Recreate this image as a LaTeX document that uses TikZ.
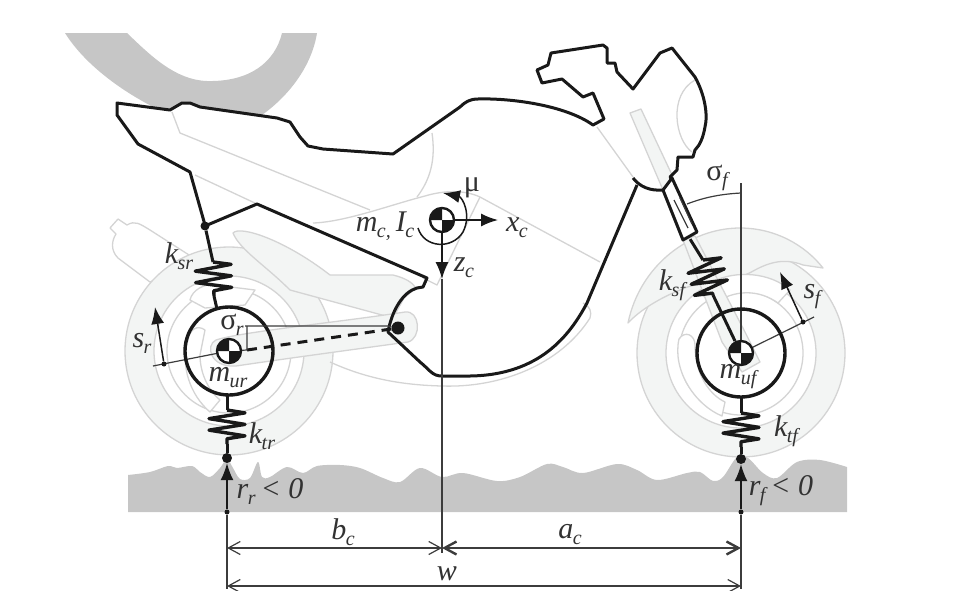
\documentclass[tikz,border=0pt]{standalone}
\usepackage{fontspec}
\setmainfont{Liberation Serif}
\newcommand{\symsub}[2]{{\itshape #1\kern-0.5pt\raisebox{-6pt}{\fontsize{20}{20}\selectfont #2}}}
\definecolor{mbGround}{RGB}{198, 198, 198}
\definecolor{mbFaint}{RGB}{212, 212, 212}
\definecolor{mbPale}{RGB}{243, 245, 244}
\definecolor{mbInk}{RGB}{25, 25, 25}
\definecolor{mbText}{RGB}{50, 50, 50}
\usetikzlibrary{
  arrows.meta,
  calc,
  decorations.pathmorphing
}
\tikzset{
  % Silhouette lines
  faintline/.style={draw=mbFaint, line width=1.3pt, line join=round},
  palepart/.style={faintline, fill=mbPale},
  bodyline/.style={draw=mbInk, line width=3pt, line join=round},
  thinline/.style={draw=mbInk!85, line width=1.2pt},
  % Spring and marks
  springcoil/.style={
    draw=mbInk, line width=3.4pt, line join=round,
    decoration={zigzag, segment length=11.5pt, amplitude=18pt},
    decorate
  },
  dotmark/.style={circle, fill=mbInk, inner sep=0pt, minimum size=#1},
  dotmark/.default=4pt,
  % Arrows
  forcearrow/.style={-{Latex[length=17pt, width=13pt]}, draw=mbInk, line width=1.5pt},
  dimarrow/.style={{Straight Barb[length=12pt, width=13pt]}-{Straight Barb[length=12pt, width=13pt]}, draw=mbInk!85, line width=1.2pt},
  % Labels
  mathlabel/.style={font=\fontsize{30}{32}\selectfont, text=mbText, inner sep=0pt},
  % Wheel centre mark
  hubmark/.pic={
    \fill[white] (0,0) circle (12);
    \fill[mbInk] (0,0) -- (-12,0) arc (180:270:12) -- cycle;
    \fill[mbInk] (0,0) -- (12,0) arc (0:90:12) -- cycle;
    \draw[mbInk, line width=2.4pt] (0,0) circle (12);
  }
}
\begin{document}
\begin{tikzpicture}[x=1pt, y=-1pt]
  \useasboundingbox (0,0) rectangle (954,590);

  % Centres
  \coordinate (hubR) at (229,351);
  \coordinate (hubF) at (741,353);
  \coordinate (cog) at (442,220);

  % Fender at the top
  \fill[mbGround] (65,33) .. controls (85,65) and (125,95) .. (170,115) -- (262,115)
    .. controls (290,95) and (312,65) .. (317,33) -- (282,33)
    .. controls (275,62) and (250,82) .. (207,81) .. controls (175,80) and (150,55) .. (127,33) -- cycle;

  % Exhaust
  \draw[faintline, fill=white] (110,228) -- (118,219) -- (127,225) .. controls (135,220) and (140,224) .. (150,230)
    -- (200,262) -- (150,282) -- (118,258) .. controls (110,250) and (112,240) .. (116,234) -- cycle;

  % Wheels
  \foreach \hub/\name in {hubR/wheelR, hubF/wheelF} {
    \draw[palepart] (\hub) circle (104);
    \draw[faintline, fill=white] (\hub) circle (75);
    \draw[faintline] (\hub) circle (62);
  }

  % Front fender
  \draw[palepart] (628,323) .. controls (640,265) and (690,228) .. (740,228)
    .. controls (775,228) and (805,245) .. (823,268) -- (803,265)
    .. controls (785,258) and (770,262) .. (755,270) .. controls (730,285) and (700,280) .. (680,290) .. controls (660,298) and (640,310) .. (628,323) -- cycle;

  % Wheel spokes
  \draw[faintline, fill=white] (679,339) .. controls (685,330) and (695,335) .. (695,345)
    .. controls (695,375) and (710,395) .. (725,402) -- (722,416) .. controls (695,405) and (672,370) .. (679,339) -- cycle;
  \draw[faintline, fill=white] (700,292) -- (712,282) .. controls (735,270) and (770,272) .. (790,290)
    -- (778,303) .. controls (760,290) and (735,288) .. (712,305) -- cycle;
  \draw[faintline, fill=white] (188,340) .. controls (190,328) and (198,325) .. (205,330)
    -- (200,355) .. controls (200,375) and (210,392) .. (220,400) -- (210,412) .. controls (190,395) and (180,365) .. (188,340) -- cycle;
  \draw[faintline, fill=white] (190,300) .. controls (192,290) and (205,283) .. (215,285) -- (255,290) -- (245,305) -- (205,308) -- cycle;

  % Body
  \fill[white] (117,103) -- (170,110) -- (182,103) -- (190,103) -- (200,107) -- (277,118) -- (290,122) -- (300,137) -- (308,146) -- (323,149)
    -- (393,154) -- (470,100) -- (503,100) -- (553,108) -- (593,125) -- (604,119) -- (633,178) -- (637,185) -- (612,250) -- (587,303)
    -- (563,340) -- (530,367) -- (487,375) -- (442,376) -- (433,373) -- (388,332) -- (426,278) -- (257,204) -- (205,225) -- (190,172) -- (138,144) -- (117,115) -- cycle;

  % Faint frame
  \draw[faintline] (172,112) -- (180,133) -- (370,210);
  \draw[faintline] (195,175) -- (257,204);
  \draw[faintline] (432,133) .. controls (436,160) and (430,180) .. (417,197);
  \draw[faintline] (313,223) .. controls (345,222) and (390,205) .. (425,196) .. controls (445,190) and (465,190) .. (480,197) -- (600,262);
  \draw[faintline] (480,197) -- (437,285) -- (423,278);
  \draw[faintline] (597,127) -- (633,177);
  \draw[faintline] (695,80) .. controls (668,95) and (675,140) .. (692,152);
  \draw[palepart] (233,233) .. controls (240,225) and (285,240) .. (330,275) -- (393,275)
    .. controls (405,278) and (412,282) .. (416,288) -- (404,298) -- (393,318) -- (290,290) .. controls (265,265) and (240,250) .. (233,233) -- cycle;

  % Fairing under the body
  \draw[faintline] (330,362) .. controls (365,378) and (400,385) .. (442,386) .. controls (500,388) and (560,365) .. (590,318) .. controls (592,312) and (590,306) .. (583,303);

  % Swing arm and fork
  \draw[palepart] (216,340) .. controls (240,332) and (340,322) .. (405,312) .. controls (420,310) and (422,338) .. (408,342) .. controls (350,350) and (290,358) .. (236,366) .. controls (210,368) and (205,345) .. (216,340) -- cycle;
  \draw[faintline, fill=mbPale] (630,113) -- (641,109) -- (673,177) -- (663,190) -- cycle;
  \draw[palepart] (683,240) -- (695,236) -- (745,332) -- (760,362) -- (742,372) -- (722,342) -- cycle;

  % Ground
  \fill[mbGround] plot[smooth, tension=0.55] coordinates {(128,475) (150,472) (168,466) (177,468) (192,466) (200,472) (210,477) (220,468) (227,459) (233,468)
    (240,479) (250,478) (258,462) (262,477) (270,477) (287,467) (303,473) (317,466) (340,465) (360,468)
    (383,478) (400,482) (420,468) (442,477) (463,473) (497,481) (520,477) (547,464) (563,467) (583,473)
    (617,464) (637,470) (657,480) (687,473) (700,472) (713,481) (723,477) (737,457) (748,458) (763,473)
    (777,478) (797,462) (820,460) (847,467)} -- (847,512) -- (128,512) -- cycle;

  % Outline of the body
  \draw[bodyline] (205,225) -- (190,172) -- (138,144) -- (117,115) -- (117,103) -- (170,110) -- (182,103) -- (190,103) -- (200,107) -- (277,118) -- (290,122)
    -- (300,137) -- (308,146) -- (323,149) -- (393,154) -- (460,107) .. controls (465,102) and (470,99) .. (478,99)
    .. controls (510,98) and (565,105) .. (593,125) -- (604,119) -- (593,93) -- (583,97) -- (562,79) -- (542,83) -- (537,70) -- (548,65) -- (551,53)
    -- (603,45) -- (607,48) -- (607,63) -- (615,63) -- (617,72) -- (633,89) -- (660,53) -- (672,48) -- (695,77)
    .. controls (705,95) and (708,115) .. (705,127) .. controls (703,138) and (700,145) .. (695,150) -- (693,157) -- (678,157) -- (677,170) -- (670,177) -- (672,180);
  \draw[bodyline] (663,190) .. controls (650,191) and (640,187) .. (633,178);
  \draw[bodyline] (637,185) -- (587,303) .. controls (570,335) and (540,375) .. (470,376) -- (442,376) .. controls (432,376) and (430,370) .. (420,362) -- (388,332)
    .. controls (392,310) and (403,292) .. (417,288) -- (423,287) -- (427,278) -- (257,204) -- (205,226);
  \draw[bodyline] (672,178) -- (697,232) -- (683,240) -- (663,190) -- cycle;
  \draw[thinline] (674,200) -- (688,228) (680,198) -- (692,224);

  % Thin guides behind the wheel masses
  \coordinate (stickR) at (153,366);
  \coordinate (stickF) at (814,317);
  \draw[thinline] (stickR) -- (hubR);
  \draw[thinline] (stickF) -- (hubF);
  \draw[thinline] (hubF) -- (741,183);
  \draw[thinline] (687,204) .. controls (705,197) and (722,194) .. (741,193);

  % Masses
  \draw[bodyline, line width=3.4pt] (hubR) circle (44);
  \draw[bodyline, line width=3.4pt] (hubF) circle (44);

  % Swing arm centre lines
  \coordinate (pivotR) at (398,328);
  \node[dotmark=13pt] (pivot) at (pivotR) {};
  \coordinate (armR) at (247,350);
  \draw[bodyline, dashed, dash pattern=on 10pt off 7pt] (armR) -- (pivot);
  \draw[thinline] (pivot) -- (388,326) -- (245,326);
  \draw[thinline] (247,326) -- (armR) -- (hubR);

  % Rear suspension
  \node[dotmark=9pt] (chassisR) at (205,226) {};
  \coordinate (upR) at (213,262);
  \coordinate (loR) at (214,296);
  \coordinate (massR) at (217,309);
  \draw[bodyline] (chassisR) -- (upR);
  \draw[springcoil] (upR) -- (loR);
  \draw[bodyline] (loR) -- (massR);

  % Rear tyre spring
  \node[dotmark=10pt] (contactR) at (227,458) {};
  \node[dotmark=5pt] (baseR) at (227,512) {};
  \draw[bodyline] (227,395) -- (227,410);
  \draw[springcoil] (227,410) -- (227,444);
  \draw[bodyline] (227,444) -- (contactR);
  \draw[forcearrow] (baseR) -- (contactR);

  % Front suspension
  \coordinate (upF) at (703,260);
  \coordinate (loF) at (713,295);
  \node[dotmark=0pt] (forkF) at (690,239) {};
  \draw[bodyline] (forkF) -- (upF);
  \draw[springcoil] (upF) -- (loF);
  \draw[bodyline] (loF) -- (735,341);

  % Front tyre spring
  \node[dotmark=10pt] (contactF) at (741,459) {};
  \node[dotmark=5pt] (baseF) at (741,512) {};
  \draw[bodyline] (741,397) -- (741,413);
  \draw[springcoil] (741,413) -- (741,447);
  \draw[bodyline] (741,447) -- (contactF);
  \draw[forcearrow] (baseF) -- (contactF);

  % Hubs
  \pic at (hubR) {hubmark};
  \pic at (hubF) {hubmark};
  \pic at (cog) {hubmark};

  % Travel arrows
  \node[dotmark=5pt] (footR) at (164,364) {};
  \node[dotmark=5pt] (footF) at (803,322) {};
  \coordinate (tipR) at (155,307);
  \coordinate (tipF) at (780,272);
  \draw[forcearrow] (footR) -- (tipR);
  \draw[forcearrow] (footF) -- (tipF);

  % Axes of the main body
  \coordinate (tipX) at (498,220);
  \coordinate (tipZ) at (442,279);
  \draw[forcearrow] (454,220) -- (tipX);
  \draw[forcearrow] (442,232) -- (tipZ);
  \draw[-{Latex[length=17pt, width=13pt]}, draw=mbInk, line width=1.5pt]
    (418,228) .. controls (424,248) and (452,250) .. (463,232) .. controls (472,214) and (462,197) .. (443,193);

  % Dimension lines
  \coordinate (markR) at (227,548);
  \coordinate (markC) at (442,548);
  \coordinate (markF) at (741,548);
  \coordinate (wR) at (227,586);
  \coordinate (wF) at (741,586);
  \draw[thinline] (tipZ) -- (442,553);
  \draw[thinline] (baseR) -- (227,589);
  \draw[thinline] (baseF) -- (741,589);
  \draw[dimarrow] (markR) -- (markC);
  \draw[dimarrow, line width=2.4pt] (markC) -- (markF);
  \draw[dimarrow] (wR) -- (wF);

  % Labels
  \node[mathlabel] (lksr) at (179,256) {\symsub{k}{sr}};
  \node[mathlabel] (lsr) at (142,343) {\symsub{s}{r}};
  \node[mathlabel] (lsigr) at (232,325) {σ\symsub{}{r}};
  \node[mathlabel] (lmur) at (228,378) {\symsub{m}{ur}};
  \node[mathlabel] (lktr) at (262,436) {\symsub{k}{tr}};
  \node[mathlabel] (lrr) at (270,492) {\symsub{r}{r}\,\textit{< 0}};
  \node[mathlabel] (lbc) at (343,532) {\symsub{b}{c}};
  \node[mathlabel] (lac) at (570,535) {\symsub{a}{c}};
  \node[mathlabel] (lw) at (447,574) {\textit{w}};
  \node[mathlabel] (lmc) at (385,226) {\symsub{m}{c,}\,\symsub{I}{c}};
  \node[mathlabel] (lmu) at (472,188) {μ};
  \node[mathlabel] (lxc) at (517,228) {\symsub{x}{c}};
  \node[mathlabel] (lzc) at (464,268) {\symsub{z}{c}};
  \node[mathlabel] (lsigf) at (717,178) {σ\symsub{}{f}};
  \node[mathlabel] (lksf) at (672,285) {\symsub{k}{sf}};
  \node[mathlabel] (lsf) at (812,297) {\symsub{s}{f}};
  \node[mathlabel] (lmuf) at (738,377) {\symsub{m}{uf}};
  \node[mathlabel] (lktf) at (786,431) {\symsub{k}{tf}};
  \node[mathlabel] (lrf) at (781,491) {\symsub{r}{f}\,\textit{< 0}};
\end{tikzpicture}
\end{document}
